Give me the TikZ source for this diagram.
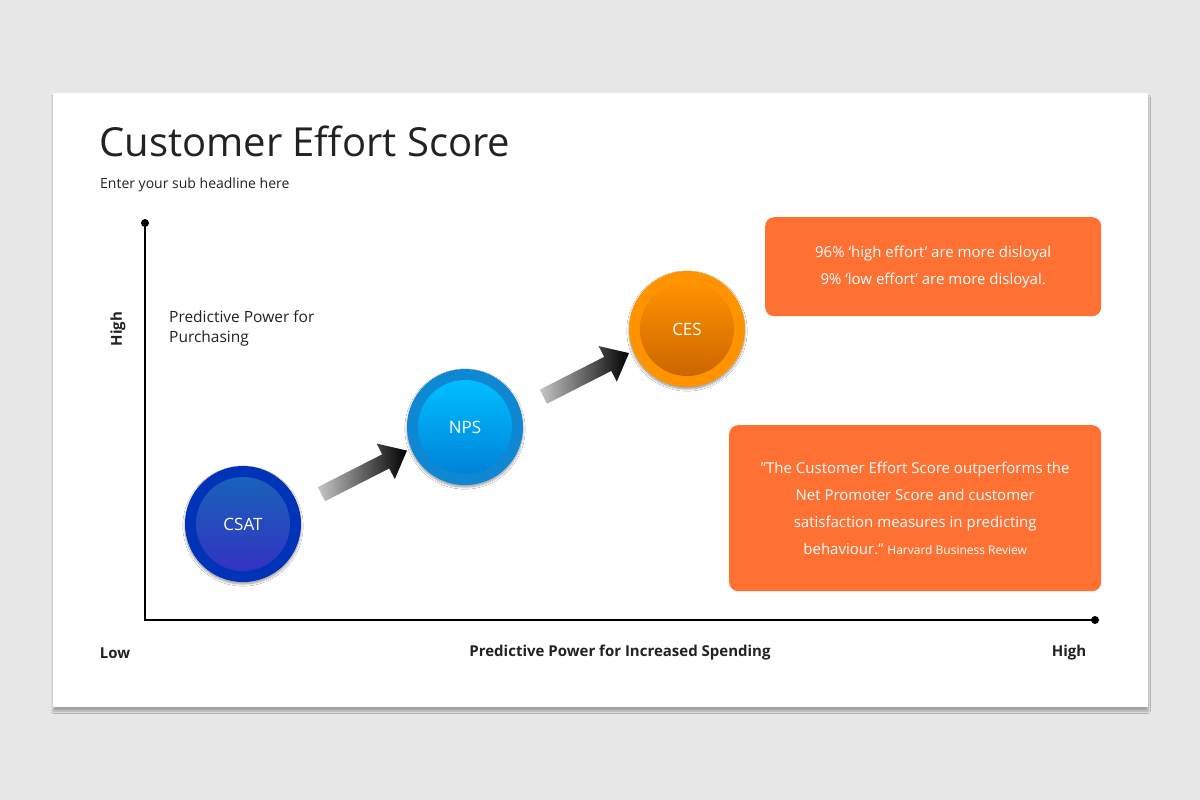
\documentclass[tikz,border=0pt]{standalone}
\usepackage{fontspec}
\setmainfont{Open Sans}
\usetikzlibrary{shapes.arrows,shadows.blur,calc}
\definecolor{bg}{HTML}{E8E7E8}
\definecolor{org}{HTML}{FF7033}
\definecolor{txt}{HTML}{222222}
\tikzset{
  ball/.style={circle,minimum size=116pt,inner sep=0pt,font=\fontsize{17}{20}\selectfont,text=white,blur shadow={shadow blur steps=8,shadow xshift=0pt,shadow yshift=-2pt}},
  arr/.style={single arrow,minimum height=96pt,minimum width=40pt,single arrow head extend=8pt,single arrow tip angle=80,inner sep=5pt,left color=gray!45,right color=black,draw=none},
  obox/.style={fill=org,rounded corners=9pt,text=white,align=center,inner sep=0pt},
  dotp/.style={circle,fill=black,inner sep=0pt,minimum size=8pt},
}
\begin{document}
\begin{tikzpicture}[x=1pt,y=-1pt]
\fill[bg] (0,0) rectangle (1200,800);
\node[anchor=north west,fill=white,minimum width=1095pt,minimum height=614pt,inner sep=0pt,blur shadow={shadow xshift=0pt,shadow yshift=-4pt,shadow blur steps=10,shadow opacity=30}] (card) at (53,93) {};
\node[anchor=base west,inner sep=0pt,text=txt,font=\fontsize{40}{44}\selectfont] (title) at (99,156) {Customer Effort Score};
\node[anchor=base west,inner sep=0pt,text=txt,font=\fontsize{14}{16}\selectfont] (sub) at (100,188) {Enter your sub headline here};
% axes
\node[dotp] (top) at (145,223) {};
\node[dotp] (right) at (1095,620) {};
\coordinate (origin) at (145,620);
\draw[line width=1.5pt] (top.center) -- (origin) -- (right.center);
\node[rotate=90,font=\bfseries\fontsize{15}{18}\selectfont,text=txt] (high1) at (118,329) {High};
\node[anchor=north west,align=left,text=txt,font=\fontsize{15.5}{20}\selectfont,inner sep=0pt] (pp) at (169,310) {Predictive Power for\\Purchasing};
\node[font=\bfseries\fontsize{15}{18}\selectfont,text=txt] (low) at (115,653) {Low};
\node[font=\bfseries\fontsize{15}{18}\selectfont,text=txt] (xl) at (620,653) {Predictive Power for Increased Spending};
\node[font=\bfseries\fontsize{15}{18}\selectfont,text=txt] (high2) at (1069,653) {High};
% balls
\node[ball,fill=blue!65!black!80!cyan] (csat) at (243,524) {};
\shade[top color=blue!55!cyan!70!black!90,bottom color=blue!70!black!80] (csat) circle (47pt);
\node[font=\fontsize{17}{20}\selectfont,text=white] (csatl) at (csat) {CSAT};
\node[ball,fill=cyan!70!blue] (nps) at (465,427) {};
\shade[top color=cyan!75!blue,bottom color=cyan!60!blue!85!black] (nps) circle (47pt);
\node[font=\fontsize{17}{20}\selectfont,text=white] (npsl) at (nps) {NPS};
\node[ball,fill=orange!85!yellow] (ces) at (687,329) {};
\shade[top color=orange!85!yellow,bottom color=orange!80!black] (ces) circle (47pt);
\node[font=\fontsize{17}{20}\selectfont,text=white] (cesl) at (ces) {CES};
% arrows
\node[arr,rotate=27] (a1) at ($(csat)!0.5!(nps)+(6,-1)$) {};
\node[arr,rotate=27] (a2) at ($(nps)!0.5!(ces)+(6,-1)$) {};
% boxes
\node[obox,anchor=north west,minimum width=336pt,minimum height=99pt,font=\fontsize{15}{27}\selectfont] (b1) at (765,217) {96\% ‘high effort’ are more disloyal\\9\% ‘low effort’ are more disloyal.};
\node[obox,anchor=north west,minimum width=372pt,minimum height=166pt,font=\fontsize{15}{27}\selectfont] (b2) at (729,425) {"The Customer Effort Score outperforms the\\Net Promoter Score and customer\\satisfaction measures in predicting\\behaviour." {\fontsize{12}{14}\selectfont Harvard Business Review}};
\end{tikzpicture}
\end{document}
